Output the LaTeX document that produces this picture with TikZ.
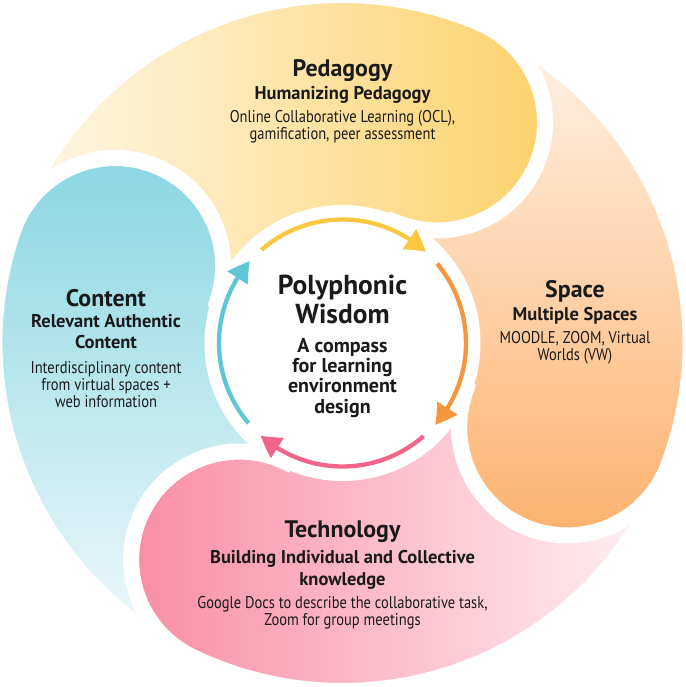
\documentclass[tikz,border=0pt]{standalone}
\usepackage{fontspec}
\setmainfont{PT Sans}[FakeStretch=0.85]
\newfontfamily\headfont{PT Sans}
\usetikzlibrary{arrows.meta,bending}

\definecolor{pedlight}{HTML}{FEF8EA}
\definecolor{peddark}{HTML}{FDD169}
\definecolor{spalight}{HTML}{FFF4EA}
\definecolor{spadark}{HTML}{FDB06A}
\definecolor{techdark}{HTML}{F98AA3}
\definecolor{techlight}{HTML}{FFF4F6}
\definecolor{condark}{HTML}{88D5E1}
\definecolor{conlight}{HTML}{F2FAFC}
\definecolor{pedarrow}{HTML}{FCC841}
\definecolor{spaarrow}{HTML}{F6973F}
\definecolor{techarrow}{HTML}{F26489}
\definecolor{conarrow}{HTML}{5FC6D5}
\definecolor{ink}{HTML}{1A1A1A}

% petal: tail angle, lobe angle
\newcommand{\petalpath}[2]{(#1:6.96) arc[start angle=#1, end angle=#2, radius=6.96]
  arc[start angle=#2, end angle=#2-180, radius=2.16]
  -- (#2:2) arc[start angle=#2, end angle=#1, radius=2] -- cycle}

\begin{document}
\begin{tikzpicture}[
    petal/.style={draw=white, line width=0.32cm},
    cycarrow/.style={line width=0.086cm, -{Triangle[bend,length=0.42cm,width=0.46cm]}},
    headline/.style={font=\headfont\bfseries\fontsize{13.6}{16}\selectfont, text=ink, inner sep=0pt, anchor=base},
    subline/.style={font=\headfont\bfseries\fontsize{10.5}{12}\selectfont, text=ink, inner sep=0pt, anchor=base, align=center},
    bodyline/.style={font=\fontsize{9.7}{9.4}\selectfont, text=ink, inner sep=0pt, anchor=base, align=center}]
        \useasboundingbox (-6.85,-6.88) rectangle (6.85,6.86);

        % Petals, each drawn after its clockwise neighbour
        \path[petal, top color=condark, bottom color=conlight] \petalpath{244.5}{161.3};
        \path[petal, left color=techdark, right color=techlight] \petalpath{-20.6}{-115.5};
        \path[petal, top color=spalight, bottom color=spadark] \petalpath{66.8}{-20.6};
        \path[petal, left color=pedlight, right color=peddark] \petalpath{161.3}{66.8};

        % Content lobe again on top of the Pedagogy tail
        \begin{scope}
            \clip (161.3:4.8) circle[radius=2.5];
            \path[petal, top color=condark, bottom color=conlight] \petalpath{244.5}{161.3};
        \end{scope}

        % White centre
        \fill[white] (0,0) circle[radius=2.76];

        % Cycle arrows
        \draw[cycarrow, pedarrow] (131:2.47) arc[start angle=131, end angle=47.5, radius=2.47];
        \draw[cycarrow, spaarrow] (40:2.47) arc[start angle=40, end angle=-41.5, radius=2.47];
        \draw[cycarrow, techarrow] (-49:2.47) arc[start angle=-49, end angle=-131.5, radius=2.47];
        \draw[cycarrow, conarrow] (-139.5:2.47) arc[start angle=-139.5, end angle=-221.5, radius=2.47];

        % Centre text (base = last line)
        \node[headline, align=center, font=\headfont\bfseries\fontsize{15.6}{16.5}\selectfont] (wisdom) at (0,0.40) {Polyphonic\\Wisdom};
        \node[subline, font=\headfont\bfseries\fontsize{11.4}{11.4}\selectfont] (compass) at (0,-1.40) {A compass\\for learning\\environment\\design};

        % Pedagogy
        \node[headline] (pedtitle) at (0,5.33) {Pedagogy};
        \node[subline] (pedsub) at (0,4.86) {Humanizing Pedagogy};
        \node[bodyline] (pedbody) at (0,4.07) {Online Collaborative Learning (OCL),\\gamification, peer assessment};

        % Space
        \node[headline] (spatitle) at (4.65,0.92) {Space};
        \node[subline] (spasub) at (4.65,0.44) {Multiple Spaces};
        \node[bodyline] (spabody) at (4.65,-0.34) {MOODLE, ZOOM, Virtual\\Worlds (VW)};

        % Technology
        \node[headline] (techtitle) at (0,-3.88) {Technology};
        \node[subline, font=\headfont\bfseries\fontsize{10.5}{12.5}\selectfont] (techsub) at (0,-4.84) {Building Individual and Collective\\knowledge};
        \node[bodyline] (techbody) at (0,-5.64) {Google Docs to describe the collaborative task,\\Zoom for group meetings};

        % Content
        \node[headline] (contitle) at (-4.73,0.73) {Content};
        \node[subline] (consub) at (-4.73,-0.12) {Relevant Authentic\\Content};
        \node[bodyline] (conbody) at (-4.73,-1.28) {Interdisciplinary content\\from virtual spaces +\\web information};
    \end{tikzpicture}
\end{document}
